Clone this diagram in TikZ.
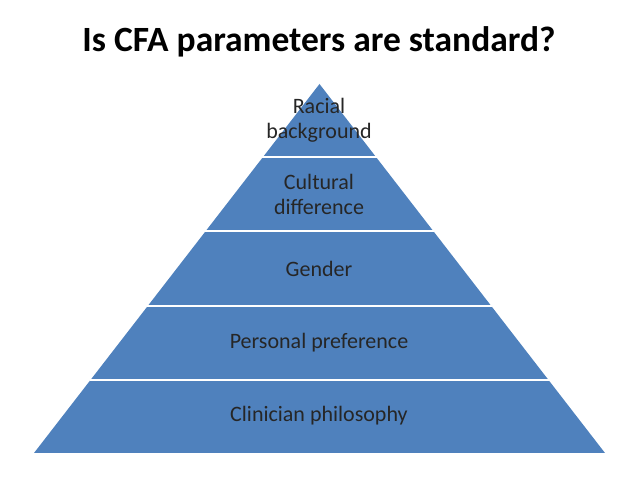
\documentclass[tikz,border=0pt]{standalone}
\usepackage{fontspec}
\setmainfont{Carlito}
\definecolor{pyr}{HTML}{4F81BD}
\begin{document}
\begin{tikzpicture}[x=1pt,y=-1pt,
  lbl/.style={font=\fontsize{22}{25}\selectfont, align=center, text=black!85},
  sep/.style={draw=white, line width=2pt}]
\useasboundingbox (0,0) rectangle (638,478);
\fill[pyr] (319.5,84) -- (605,453) -- (34,453) -- cycle;
\foreach \y in {157,231,306,380}{
  \draw[sep] ({34+(453-\y)*0.774-1},\y) -- ({605-(453-\y)*0.774+1},\y);
}
\node[font=\bfseries\fontsize{35.5}{40}\selectfont] (title) at (319,42) {Is CFA parameters are standard?};
\node[lbl] (l1) at (319,120) {Racial\\background};
\node[lbl] (l2) at (319,194) {Cultural\\difference};
\node[lbl] (l3) at (319,269) {Gender};
\node[lbl] (l4) at (319,343) {Personal preference};
\node[lbl] (l5) at (319,416) {Clinician philosophy};
\end{tikzpicture}
\end{document}
